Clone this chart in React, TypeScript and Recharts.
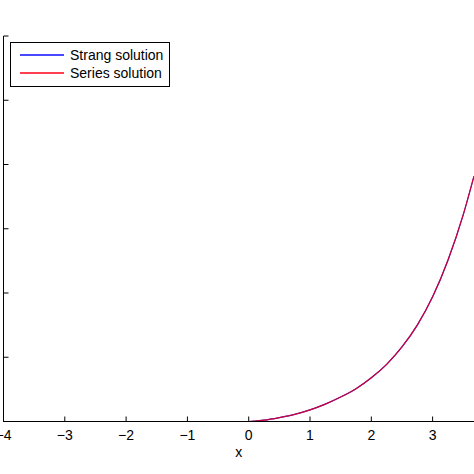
import React from "react";
import { LineChart, Line, XAxis, YAxis, Legend, ReferenceLine } from "recharts";

// values (x axis is cut at the right edge)
const xValues = [-4, -3, -2, -1, 0, 0.25, 0.5, 0.75, 1, 1.25, 1.5, 1.75, 2, 2.25, 2.5, 2.75, 3, 3.25, 3.5, 3.675];
const strangValues = [0, 0, 0, 0, 0, 0.02, 0.06, 0.11, 0.18, 0.27, 0.38, 0.51, 0.68, 0.89, 1.16, 1.5, 1.94, 2.51, 3.22, 3.82];
const seriesValues = [0, 0, 0, 0, 0, 0.02, 0.06, 0.11, 0.18, 0.27, 0.38, 0.51, 0.68, 0.89, 1.16, 1.5, 1.94, 2.51, 3.22, 3.82];
const xTicks = [-4, -3, -2, -1, 0, 1, 2, 3];
const yTicks = [0, 1, 2, 3, 4, 5, 6];
const legendItems = [
  { name: "Strang solution", color: "#4848ff" },
  { name: "Series solution", color: "#ff4050" },
];

const data = xValues.map((x, i) => ({ x, strang: strangValues[i], series: seriesValues[i] }));

const FONT = "'Liberation Sans', Arial, Helvetica, sans-serif";
const fmt = (v: number) => (v < 0 ? "\u2212" + Math.abs(v) : String(v));

function BottomTick({ x, y, payload }: any) {
  return (
    <g>
      <line x1={x} y1={y} x2={x} y2={y - 5} stroke="#000" />
      <text x={x} y={y + 18.5} textAnchor="middle" fontSize={14} fontFamily={FONT} fill="#000">
        {fmt(payload.value)}
      </text>
    </g>
  );
}

function TopTick({ x, y }: any) {
  return <line x1={x} y1={y} x2={x} y2={y + 5} stroke="#000" />;
}

function LeftTick({ x, y }: any) {
  return <line x1={x} y1={y} x2={x + 5} y2={y} stroke="#000" />;
}

function LegendBox() {
  return (
    <div style={{ border: "1px solid #000", background: "#fff", padding: "3px 6px 4px 9px", fontFamily: FONT, fontSize: 14, lineHeight: "18px" }}>
      {legendItems.map((item, i) => (
        <div key={i} style={{ display: "flex", alignItems: "center" }}>
          <div style={{ width: 44, height: 0, borderTop: `2px solid ${item.color}` }} />
          <span style={{ marginLeft: 6, color: "#000" }}>{item.name}</span>
        </div>
      ))}
    </div>
  );
}

export default function App() {
  return (
    <div style={{ position: "absolute", left: 0, top: 0, width: 474, height: 474, background: "#fff" }}>
      <LineChart width={474} height={474} data={data} margin={{ top: 36, right: 0, left: 2.5, bottom: 15.5 }}>
        <XAxis
          dataKey="x"
          type="number"
          domain={[-4, 3.675]}
          ticks={xTicks}
          interval={0}
          height={37}
          tickSize={0}
          tickMargin={0}
          tickLine={false}
          axisLine={{ stroke: "#000", strokeWidth: 1 }}
          tick={<BottomTick />}
          label={{ value: "x", position: "insideBottom", offset: 2, fontSize: 14, fontFamily: FONT, fill: "#000" }}
        />
        <XAxis
          xAxisId="top"
          orientation="top"
          dataKey="x"
          type="number"
          domain={[-4, 3.675]}
          ticks={xTicks}
          interval={0}
          height={0}
          tickSize={0}
          tickMargin={0}
          tickLine={false}
          axisLine={{ stroke: "#000" }}
          tick={<TopTick />}
        />
        <YAxis
          type="number"
          domain={[0, 6]}
          ticks={yTicks}
          interval={0}
          width={1}
          tickSize={0}
          tickMargin={0}
          tickLine={false}
          axisLine={{ stroke: "#000" }}
          tick={<LeftTick />}
        />
        <ReferenceLine y={0} stroke="#222" strokeWidth={1} />
        <Legend
          layout="vertical"
          align="center"
          verticalAlign="middle"
          content={<LegendBox />}
          wrapperStyle={{ left: 10, top: 42, width: "auto" }}
        />
        <Line type="monotone" dataKey="strang" name="Strang solution" stroke="#0000ff" strokeWidth={1.2} dot={false} isAnimationActive={false} />
        <Line type="monotone" dataKey="series" name="Series solution" stroke="#ff0000" strokeOpacity={0.8} strokeWidth={1.2} dot={false} isAnimationActive={false} />
      </LineChart>
    </div>
  );
}
